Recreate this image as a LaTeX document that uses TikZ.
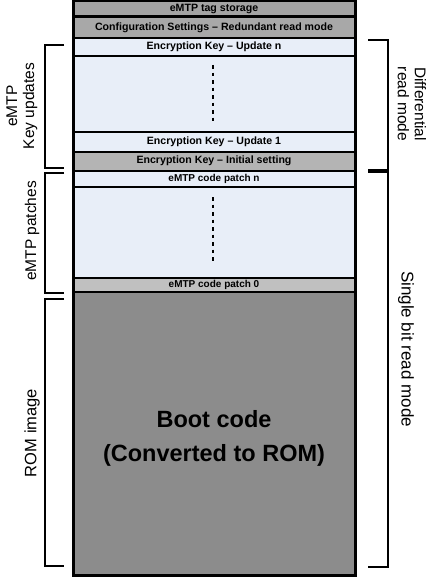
\documentclass[tikz,border=0pt]{standalone}
\usepackage{fontspec}
\setmainfont{Liberation Sans}
\begin{document}
\begin{tikzpicture}[x=1pt,y=-1pt,
  row/.style={draw=black, line width=2pt, inner sep=0pt, outer sep=0pt,
    minimum width=282pt, anchor=north, font=\bfseries\fontsize{10.6}{12}\selectfont},
  dotline/.style={line width=2.6pt, dash pattern=on 3.6pt off 3.9pt},
  brk/.style={line width=2pt},
  side/.style={font=\fontsize{15.5}{17}\selectfont, align=center, inner sep=0pt}]
\definecolor{gA}{HTML}{A3A3A3}
\definecolor{gB}{HTML}{A8A8A8}
\definecolor{gC}{HTML}{B4B4B4}
\definecolor{gD}{HTML}{C0C0C0}
\definecolor{gR}{HTML}{8C8C8C}
\definecolor{lb}{HTML}{E8EEF8}
\useasboundingbox (0,0) rectangle (435,578);
\fill[white] (0,0) rectangle (435,578);
% rows
\node[row, fill=gA, minimum height=16pt] (tag) at (214,1) {\raisebox{1pt}{eMTP tag storage}};
\node[row, fill=gB, minimum height=21pt] (cfg) at (214,17) {Configuration Settings -- Redundant read mode};
\node[row, fill=lb, minimum height=18.5pt] (updn) at (214,38) {Encryption Key -- Update n};
\node[row, fill=lb, minimum height=75.5pt] (dots1) at (214,56.5) {};
\node[row, fill=lb, minimum height=19.5pt] (upd1) at (214,132) {Encryption Key -- Update 1};
\node[row, fill=gC, minimum height=19.5pt] (init) at (214,151.5) {Encryption Key -- Initial setting};
\node[row, fill=lb, minimum height=16pt, font=\bfseries\fontsize{10}{12}\selectfont] (patchn) at (214,171) {eMTP code patch n};
\node[row, fill=lb, minimum height=90.5pt] (dots2) at (214,187) {};
\node[row, fill=gD, minimum height=14.5pt, font=\bfseries\fontsize{10}{12}\selectfont] (patch0) at (214,277.5) {eMTP code patch 0};
\node[row, fill=gR, minimum height=283.5pt] (rom) at (214,292) {};
\node[font=\bfseries\fontsize{23.5}{34}\selectfont, align=center, inner sep=0pt] (boot) at (214,438) {Boot code\\(Converted to ROM)};
% heavier lines
\draw[line width=3pt] (73,1) rectangle (355,575.5);
\draw[line width=3pt] (tag.south west) -- (tag.south east);
% dots
\draw[dotline] (213,65) -- (213,121);
\draw[dotline] (213,197) -- (213,262);
% left brackets
\draw[brk] (64,45) -| (45,168) -- (64,168);
\draw[brk] (64,173) -| (45,293) -- (64,293);
\draw[brk] (64,299) -| (45,566) -- (64,566);
% right brackets
\draw[brk] (368,40) -| (388,170) -- (368,170);
\draw[brk] (368,172) -| (388,567) -- (368,567);
% side labels
\node[side, rotate=90] (lk) at (22,106) {eMTP\\Key updates};
\node[side, rotate=90] (lp) at (32,231) {eMTP patches};
\node[side, rotate=90, font=\fontsize{16.5}{18}\selectfont] (lr) at (32,433) {ROM image};
\node[side, rotate=-90] (rd) at (412,104) {Differential\\read mode};
\node[side, rotate=-90, font=\fontsize{17}{19}\selectfont] (rs) at (406,349) {Single bit read mode};
\end{tikzpicture}
\end{document}
